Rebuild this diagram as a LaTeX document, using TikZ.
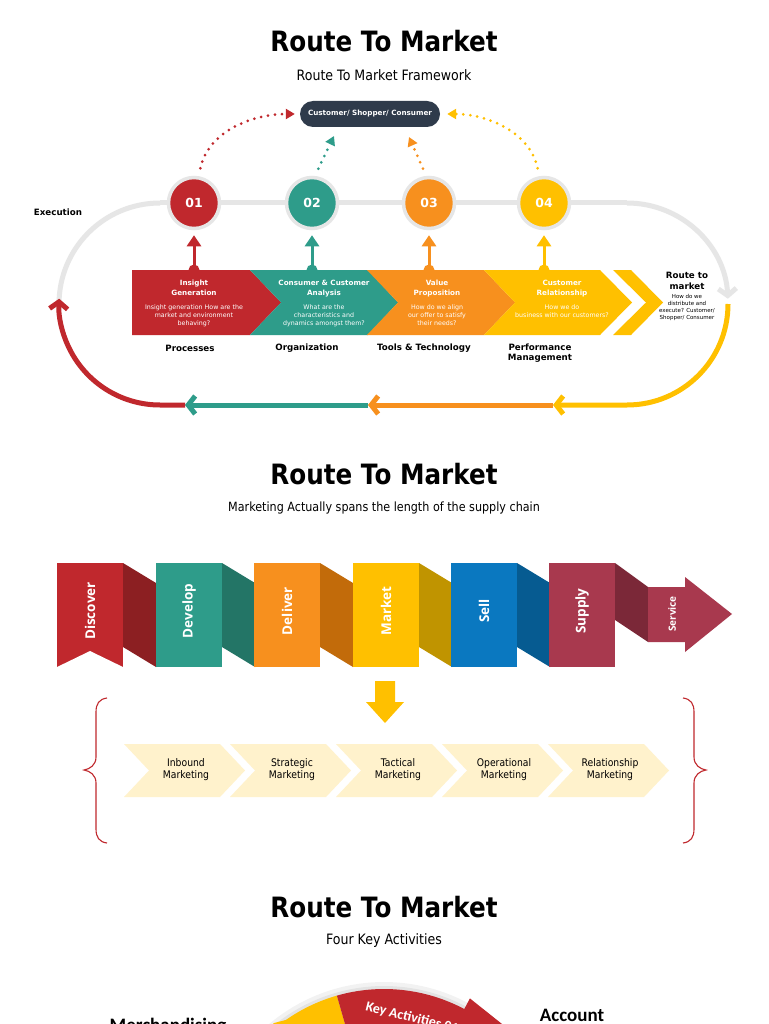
\documentclass[tikz,border=0pt]{standalone}
\usepackage{fontspec}
\setmainfont{DejaVu Sans}
\newfontfamily\condfont{DejaVu Sans}[FakeStretch=0.88]
\newfontfamily\ribbonfont{Open Sans}
\newfontfamily\calfont{Carlito}
\usetikzlibrary{arrows.meta,positioning,shapes.geometric}
\definecolor{rtmred}{HTML}{C0282D}
\definecolor{rtmredd}{HTML}{8C1F22}
\definecolor{rtmteal}{HTML}{2E9C8A}
\definecolor{rtmteald}{HTML}{237566}
\definecolor{rtmorange}{HTML}{F7901E}
\definecolor{rtmoranged}{HTML}{C26B0A}
\definecolor{rtmyellow}{HTML}{FFC000}
\definecolor{rtmyellowd}{HTML}{C09400}
\definecolor{rtmblue}{HTML}{0A78C0}
\definecolor{rtmblued}{HTML}{065B91}
\definecolor{rtmwine}{HTML}{A8394E}
\definecolor{rtmwined}{HTML}{7B2838}
\definecolor{rtmslate}{HTML}{2F3B4B}
\definecolor{rtmtrack}{HTML}{E6E6E6}
\definecolor{rtmcream}{HTML}{FFF2CC}
\begin{document}
\begin{tikzpicture}[x=1pt,y=1pt,
  maintitle/.style={inner sep=0pt,font=\condfont\bfseries\fontsize{28}{32}\selectfont},
  subhead/.style={inner sep=0pt,font=\condfont\fontsize{14.3}{17}\selectfont},
  track/.style={draw=rtmtrack,line width=5pt},
  loopline/.style={line width=5pt,-{Straight Barb[length=7pt,width=18pt]}},
  numcircle/.style={circle,draw=rtmtrack,line width=3.5pt,minimum size=51pt,text=white,font=\bfseries\fontsize{12.5}{14}\selectfont},
  dotline/.style={line width=3pt,dash pattern=on 0pt off 7pt,line cap=round,-{Triangle[length=9pt,width=10pt]}},
  stemline/.style={line width=3pt,-{Triangle[length=11pt,width=14pt]},shorten >=5pt},
  bandhead/.style={anchor=north,align=center,inner sep=0pt,text=white,font=\bfseries\fontsize{7.2}{9.5}\selectfont},
  banddesc/.style={anchor=north,align=center,inner sep=0pt,text=white,font=\fontsize{6.3}{7.6}\selectfont},
  steplabel/.style={align=center,inner sep=0pt,font=\bfseries\fontsize{8.7}{10.5}\selectfont},
  ribbontext/.style={rotate=90,text=white,inner sep=0pt,font=\ribbonfont\bfseries\fontsize{13.5}{15}\selectfont},
  chevtext/.style={align=center,inner sep=0pt,font=\condfont\fontsize{10.5}{12}\selectfont},
  bracket/.style={draw=rtmred,line width=1.1pt},
  bigword/.style={inner sep=0pt,font=\calfont\bfseries\fontsize{19}{22}\selectfont}]
\useasboundingbox (0,0) rectangle (768,-1024);
\clip (0,0) rectangle (768,-1024);
\fill[white] (0,0) rectangle (768,-1024);

% ---- framework ----
\node[maintitle] (t1) at (384,-41) {Route To Market};
\node[subhead] (s1) at (384,-75) {Route To Market Framework};

\draw[track] (160,-203) -- (627,-203);
\draw[track] (160,-203) arc[start angle=90,end angle=180,radius=101];
\draw[track,-{Straight Barb[length=7pt,width=18pt]}] (627,-203) arc[start angle=90,end angle=3,radius=101];
\coordinate (bY) at (553,-405);
\coordinate (bO) at (368,-405);
\coordinate (bT) at (185,-405);
\draw[loopline,rtmyellow] (728,-304) arc[start angle=0,end angle=-90,radius=101] -- (bY);
\draw[loopline,rtmorange] (bY) -- (bO);
\draw[loopline,rtmteal] (bO) -- (bT);
\draw[loopline,rtmred] (bT) -- (160,-405) arc[start angle=270,end angle=177,radius=101];

\node[numcircle,fill=rtmred] (c1) at (194,-203) {01};
\node[numcircle,fill=rtmteal] (c2) at (312,-203) {02};
\node[numcircle,fill=rtmorange] (c3) at (429,-203) {03};
\node[numcircle,fill=rtmyellow] (c4) at (544,-203) {04};

\node[fill=rtmslate,rounded corners=13pt,minimum width=140pt,minimum height=26pt,inner sep=2pt,text=white,font=\bfseries\fontsize{7.2}{8}\selectfont] (cust) at (370,-114) {Customer/ Shopper/ Consumer};
\coordinate (tealend) at (334,-136);
\coordinate (orangeend) at (409,-137);
\draw[dotline,rtmred,shorten <=8pt,shorten >=5pt] (c1.80) to[out=78,in=180] (cust.west);
\draw[dotline,rtmteal,shorten <=8pt] (c2.84) -- (tealend);
\draw[dotline,rtmorange,shorten <=8pt] (c3.96) -- (orangeend);
\draw[dotline,rtmyellow,shorten <=8pt,shorten >=7pt] (c4.100) to[out=102,in=0] (cust.east);

\foreach \x/\col [count=\i] in {194/rtmred,312/rtmteal,429/rtmorange,544/rtmyellow}{
  \coordinate (p\i) at (\x,-270);
  \fill[\col] (p\i) circle[radius=5.5];
  \draw[stemline,\col] (p\i) -- (c\i);
}
\fill[rtmred] (132,-270) -- (250,-270) -- (281,-302.5) -- (250,-335) -- (132,-335) -- cycle;
\fill[rtmteal] (250,-270) -- (368,-270) -- (398,-302.5) -- (368,-335) -- (250,-335) -- (281,-302.5) -- cycle;
\fill[rtmorange] (367,-270) -- (484,-270) -- (515,-302.5) -- (484,-335) -- (367,-335) -- (398,-302.5) -- cycle;
\fill[rtmyellow] (484,-270) -- (600,-270) -- (632,-302.5) -- (600,-335) -- (484,-335) -- (515,-302.5) -- cycle;
\fill[rtmyellow] (613,-270) -- (631,-270) -- (663,-302.5) -- (631,-335) -- (613,-335) -- (646,-302.5) -- cycle;

\node[bandhead] (h1) at (194,-280) {Insight\\Generation};
\node[banddesc] (d1) at (194,-305) {Insight generation How are the\\market and environment\\behaving?};
\node[bandhead] (h2) at (324,-280) {Consumer \& Customer\\Analysis};
\node[banddesc] (d2) at (324,-305) {What are the\\characteristics and\\dynamics amongst them?};
\node[bandhead] (h3) at (437,-280) {Value\\Proposition};
\node[banddesc] (d3) at (437,-305) {How do we align\\our offer to satisfy\\their needs?};
\node[bandhead] (h4) at (562,-280) {Customer\\Relationship};
\node[banddesc] (d4) at (562,-305) {How we do\\business with our customers?};

\node[steplabel] (l1) at (190,-348) {Processes};
\node[steplabel] (l2) at (307,-348) {Organization};
\node[steplabel] (l3) at (424,-348) {Tools \& Technology};
\node[steplabel] (l4) at (540,-353) {Performance\\Management};
\node[steplabel] (exe) at (58,-212) {Execution};
\node[steplabel] (rtm) at (687,-281) {Route to\\market};
\node[anchor=north,align=center,inner sep=0pt,font=\fontsize{5.5}{7}\selectfont] (rtmd) at (687,-294) {How do we\\distribute and\\execute? Customer/\\Shopper/ Consumer};

% ---- supply chain ----
\node[maintitle] (t2) at (384,-474) {Route To Market};
\node[subhead,font=\condfont\fontsize{12.7}{15}\selectfont] (s2) at (384,-508) {Marketing Actually spans the length of the supply chain};

\foreach \x/\lbl/\main/\dark [count=\i] in {57/Discover/rtmred/rtmredd,156/Develop/rtmteal/rtmteald,254/Deliver/rtmorange/rtmoranged,353/Market/rtmyellow/rtmyellowd,451/Sell/rtmblue/rtmblued}{
  \fill[\dark] (\x+66,-563) -- (\x+99,-583) -- (\x+99,-667) -- (\x+66,-647) -- cycle;
  \fill[\main] (\x,-563) rectangle (\x+66,-667);
  \node[ribbontext] (r\i) at (\x+33,-611) {\lbl};
}
\fill[white] (56,-667.5) -- (90,-651) -- (124,-667.5) -- cycle;
\fill[rtmwined] (615,-563) -- (648,-587) -- (648,-642) -- (615,-620) -- cycle;
\fill[rtmwine] (549,-563) rectangle (615,-667);
\node[ribbontext] (r6) at (582,-611) {Supply};
\fill[rtmwine] (648,-587) -- (685,-587) -- (685,-577) -- (732,-614) -- (685,-652) -- (685,-642) -- (648,-642) -- cycle;
\node[ribbontext,font=\ribbonfont\bfseries\fontsize{10}{12}\selectfont] (r7) at (672,-614) {Service};

\fill[rtmyellow] (375,-681) -- (395,-681) -- (395,-702) -- (404,-702) -- (385,-723) -- (366,-702) -- (375,-702) -- cycle;

\draw[bracket] (107,-698) .. controls (99,-699) and (96,-704) .. (96,-712) -- (96,-757)
  .. controls (96,-765) and (90,-769) .. (84,-770) .. controls (90,-771) and (96,-775) .. (96,-783)
  -- (96,-829) .. controls (96,-837) and (99,-842) .. (107,-843);
\draw[bracket] (683,-698) .. controls (691,-699) and (694,-704) .. (694,-712) -- (694,-757)
  .. controls (694,-765) and (700,-769) .. (706,-770) .. controls (700,-771) and (694,-775) .. (694,-783)
  -- (694,-829) .. controls (694,-837) and (691,-842) .. (683,-843);

\foreach \l/\txt [count=\i] in {124/{Inbound\\Marketing},230/{Strategic\\Marketing},336/{Tactical\\Marketing},442/{Operational\\Marketing},548/{Relationship\\Marketing}}{
  \fill[rtmcream] (\l,-744) -- (\l+96,-744) -- (\l+121,-770.5) -- (\l+96,-797) -- (\l,-797) -- (\l+25,-770.5) -- cycle;
  \node[chevtext] (m\i) at (\l+62,-770) {\txt};
}

% ---- key activities ----
\node[maintitle] (t3) at (384,-907) {Route To Market};
\node[subhead] (s3) at (384,-941) {Four Key Activities};
\begin{scope}[shift={(384,-1160)}]
  \fill[black,opacity=0.05] (40:178) arc[start angle=40,end angle=135,radius=178] -- (135:100) arc[start angle=135,end angle=40,radius=100] -- cycle;
  \fill[black,opacity=0.06] (40:174) arc[start angle=40,end angle=135,radius=174] -- (135:100) arc[start angle=135,end angle=40,radius=100] -- cycle;
  \fill[rtmyellow] (129:176) -- (125:171) arc[start angle=125,end angle=106,radius=171] -- (106:110) arc[start angle=106,end angle=129,radius=110] -- cycle;
  \fill[rtmred] (106:171) arc[start angle=106,end angle=62,radius=171] -- (62:183) -- (38:185) -- (62:95) -- (62:110) arc[start angle=62,end angle=106,radius=110] -- cycle;
\end{scope}
\node[text=white,inner sep=0pt,rotate=-14,font=\calfont\bfseries\fontsize{14}{16}\selectfont] (ka) at (412,-1018) {Key Activities 01};
\node[bigword,anchor=base] (acc) at (572,-1021) {Account};
\node[bigword,anchor=base] (mer) at (168,-1031) {Merchandising};
\end{tikzpicture}
\end{document}
